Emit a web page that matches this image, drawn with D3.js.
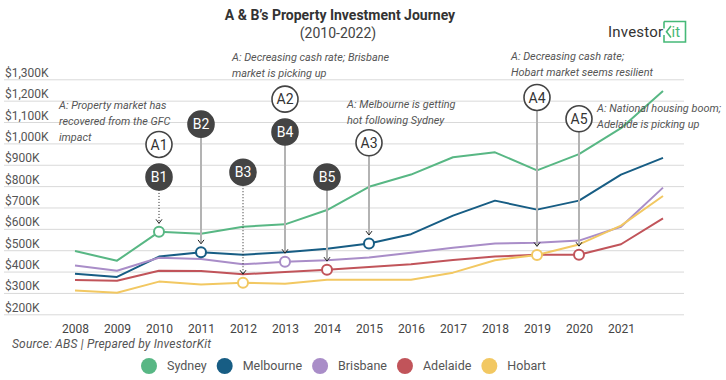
<!DOCTYPE html>
<html>
<head>
<meta charset="utf-8">
<script src="https://cdn.jsdelivr.net/npm/d3@7"></script>
<style>
  html, body { margin: 0; padding: 0; background: #fff; }
  svg { display: block; font-family: Roboto, "Noto Sans", sans-serif; }
</style>
</head>
<body>
<svg id="chart" width="726" height="380"></svg>
<script>
// ---------------- data ----------------
const years = [2008, 2009, 2010, 2011, 2012, 2013, 2014, 2015, 2016, 2017, 2018, 2019, 2020, 2021, 2022];
const tickYears = [2008, 2009, 2010, 2011, 2012, 2013, 2014, 2015, 2016, 2017, 2018, 2019, 2020, 2021];
const yTicks = [200, 300, 400, 500, 600, 700, 800, 900, 1000, 1100, 1200, 1300];

const sydney    = [496, 451, 586, 577, 610, 621, 688, 797, 854, 935, 958, 874, 950, 1071, 1245];
const melbourne = [390, 375, 470, 490, 479, 490, 507, 531, 575, 662, 732, 690, 732, 854, 932];
const brisbane  = [428, 404, 465, 459, 434, 446, 453, 466, 488, 512, 531, 535, 545, 610, 793];
const adelaide  = [361, 357, 404, 403, 387, 398, 409, 421, 434, 454, 470, 479, 479, 528, 649];
const hobart    = [311, 301, 353, 339, 348, 343, 362, 362, 362, 395, 453, 478, 527, 615, 754];

const seriesNames = ["Sydney", "Melbourne", "Brisbane", "Adelaide", "Hobart"];
const seriesColors = ["#58b784", "#175d84", "#a98dc8", "#c1545a", "#f2c862"];
const seriesValues = [sydney, melbourne, brisbane, adelaide, hobart];

// events: label, series index, year, bubble level (in chart value units)
const eventLabels  = ["A1", "B1", "B2", "B3", "A2", "B4", "B5", "A3", "A4", "A5"];
const eventSeries  = [0, 0, 1, 4, 2, 2, 3, 1, 4, 3];
const eventYears   = [2010, 2010, 2011, 2012, 2013, 2013, 2014, 2015, 2019, 2020];
const eventBubbleV = [995, 843, 1090, 865, 1207, 1053, 843, 1003, 1215, 1115];

const noteLines = [
  ["A: Property market has", "recovered from the GFC", "impact"],
  ["A: Decreasing cash rate; Brisbane", "market is picking up"],
  ["A: Melbourne is getting", "hot following Sydney"],
  ["A: Decreasing cash rate;", "Hobart market seems resilient"],
  ["A: National housing boom;", "Adelaide is picking up"]
];

const title = "A & B\u2019s Property Investment Journey";
const subtitle = "(2010-2022)";
const source = "Source: ABS | Prepared by InvestorKit";

// ---------------- layout ----------------
const svg = d3.select("#chart");
const x = d3.scaleLinear().domain([2008, 2022]).range([75, 663]);
const y = d3.scaleLinear().domain([200, 1300]).range([314.3, 79.3]);

// title
svg.append("text").attr("x", 340).attr("y", 15).attr("dy", "0.35em")
  .attr("text-anchor", "middle").attr("font-weight", "700").attr("font-size", 14)
  .attr("fill", "#333").text(title);
svg.append("text").attr("x", 338).attr("y", 33).attr("dy", "0.35em")
  .attr("text-anchor", "middle").attr("font-size", 14)
  .attr("fill", "#444").text(subtitle);

// logo
const logo = svg.append("g");
logo.append("text").attr("x", 608).attr("y", 32).attr("dy", "0.35em")
  .attr("font-size", 15).attr("fill", "#333").attr("letter-spacing", 0.2).text("Investor");
logo.append("path")
  .attr("d", "M664,21.5 H685.5 V42 H664 V35 M664,28.5 V21.5 M671,26 L666.5,31.7 L671,37.5")
  .attr("fill", "none").attr("stroke", "#46b978").attr("stroke-width", 1.6);
logo.append("text").attr("x", 671.5).attr("y", 32).attr("dy", "0.35em")
  .attr("font-size", 15).attr("fill", "#46b978").text("it");

// y grid + labels
const yAxis = d3.axisRight(y).tickValues(yTicks).tickSize(680)
  .tickFormat(d => "$" + d3.format(",")(d) + "K");
const gy = svg.append("g").attr("transform", "translate(4,0)").call(yAxis);
gy.select(".domain").remove();
gy.selectAll(".tick line").attr("stroke", "#d9d9d9").attr("stroke-width", 1);
gy.selectAll(".tick text").attr("x", 1).attr("dy", "-3px")
  .attr("text-anchor", "start").attr("font-size", 12).attr("fill", "#555")
  .attr("font-family", "Roboto, sans-serif");

// x labels
const xAxis = d3.axisBottom(x).tickValues(tickYears).tickSize(0).tickPadding(10)
  .tickFormat(d3.format("d"));
const gx = svg.append("g").attr("transform", "translate(0,314.3)").call(xAxis);
gx.select(".domain").remove();
gx.selectAll(".tick text").attr("font-size", 12).attr("fill", "#444")
  .attr("font-family", "Roboto, sans-serif");

// lines
const line = d3.line().x((d, i) => x(years[i])).y(d => y(d));
svg.append("g").selectAll("path").data(seriesValues).join("path")
  .attr("d", line).attr("fill", "none")
  .attr("stroke", (d, i) => seriesColors[i]).attr("stroke-width", 2)
  .attr("stroke-linejoin", "round");

// event connectors, markers and bubbles
const bubbleR = 13;
const ev = eventLabels.map((lab, i) => {
  const vals = seriesValues[eventSeries[i]];
  const yi = years.indexOf(eventYears[i]);
  return {
    label: lab, series: eventSeries[i],
    cx: x(eventYears[i]), py: y(vals[yi]), by: y(eventBubbleV[i]),
    isA: lab[0] === "A"
  };
});
const connectorOwners = ["B1", "B2", "B3", "B4", "B5", "A3", "A4", "A5"];
const dotted = ["B1", "B3"];
const gConn = svg.append("g");
ev.filter(e => connectorOwners.includes(e.label)).forEach(e => {
  const tip = e.py - 8.5;
  const isDot = dotted.includes(e.label);
  gConn.append("line").attr("x1", e.cx).attr("x2", e.cx)
    .attr("y1", e.by + bubbleR).attr("y2", isDot ? tip : tip - 1)
    .attr("stroke", isDot ? "#222" : "#b3b3b3")
    .attr("stroke-width", isDot ? 1 : 2)
    .attr("stroke-dasharray", isDot ? "1,2" : null);
  gConn.append("path")
    .attr("d", `M${e.cx - 3},${tip - 4} L${e.cx},${tip} L${e.cx + 3},${tip - 4}`)
    .attr("fill", "none").attr("stroke", "#222").attr("stroke-width", 1);
});
const seen = new Set();
const markers = ev.filter(e => { const k = e.cx + "_" + e.series; if (seen.has(k)) return false; seen.add(k); return true; });
svg.append("g").selectAll("circle").data(markers).join("circle")
  .attr("cx", d => d.cx).attr("cy", d => d.py).attr("r", 5)
  .attr("fill", "#fff").attr("stroke", d => seriesColors[d.series]).attr("stroke-width", 2);

const gB = svg.append("g").selectAll("g").data(ev).join("g")
  .attr("transform", d => `translate(${d.cx},${d.by})`);
gB.append("circle").attr("r", bubbleR)
  .attr("fill", d => d.isA ? "#fff" : "#444")
  .attr("stroke", "#444").attr("stroke-width", 1.6);
gB.append("text").attr("text-anchor", "middle").attr("dy", "0.36em")
  .attr("font-size", 14).attr("fill", d => d.isA ? "#333" : "#fff").text(d => d.label);

// annotation notes
const noteX = [59, 232, 347, 511, 597];
const noteY = [105.5, 57, 104.3, 56, 108.3];
const gN = svg.append("g");
noteLines.forEach((lines, i) => {
  const t = gN.append("text").attr("font-size", 10.9).attr("font-style", "italic")
    .attr("fill", "#555");
  lines.forEach((l, j) => {
    t.append("tspan").attr("x", noteX[i]).attr("y", noteY[i] + j * 15.8)
      .attr("dy", "0.35em").text(l);
  });
});

// source (stretched to the reference's width)
const srcText = svg.append("text").attr("x", 12).attr("y", 344).attr("dy", "0.35em")
  .attr("font-size", 12).attr("font-style", "italic").attr("fill", "#555").text(source);
const srcLen = srcText.node().getComputedTextLength();
const srcTarget = 199;
if (srcLen < srcTarget) {
  srcText.attr("letter-spacing", ((srcTarget - srcLen) / (source.length - 1)).toFixed(3));
}

// legend
const gL = svg.append("g");
let lx = 149;
seriesNames.forEach((name, i) => {
  gL.append("circle").attr("cx", lx).attr("cy", 366).attr("r", 8).attr("fill", seriesColors[i]);
  const t = gL.append("text").attr("x", lx + 18).attr("y", 366).attr("dy", "0.35em")
    .attr("font-size", 12.5).attr("fill", "#555").text(name);
  lx = lx + 18 + t.node().getComputedTextLength() + 18;
});
</script>
</body>
</html>
